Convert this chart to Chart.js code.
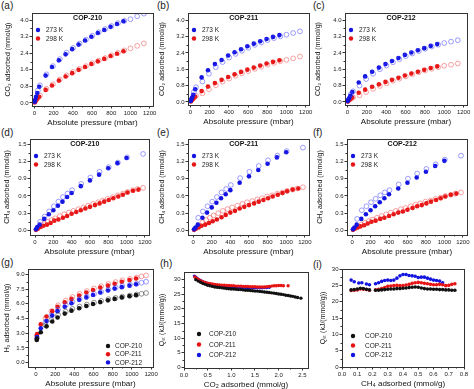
<!DOCTYPE html>
<html>
<head>
<meta charset="utf-8">
<script src="https://cdn.jsdelivr.net/npm/chart.js@4.4.1/dist/chart.umd.min.js"></script>
<style>
  body { margin: 0; background: #fff; width: 474px; height: 389px; position: relative; overflow: hidden; font-family: "Liberation Sans", Arial, sans-serif; }
  canvas { position: absolute; }
  .tag { position: absolute; font-size: 10px; color: #222; line-height: 10px; }
</style>
</head>
<body>
<div class="tag" style="left:1px;top:1px">(a)</div>
<div class="tag" style="left:157px;top:1px">(b)</div>
<div class="tag" style="left:313px;top:1px">(c)</div>
<div class="tag" style="left:1px;top:128px">(d)</div>
<div class="tag" style="left:157px;top:128px">(e)</div>
<div class="tag" style="left:313px;top:128px">(f)</div>
<div class="tag" style="left:1px;top:258px">(g)</div>
<div class="tag" style="left:160px;top:259px">(h)</div>
<div class="tag" style="left:313px;top:260px">(i)</div>
<script>
// ---- CO2 isotherms (mbar, mmol/g) ----
const co2AdsP = [3, 8, 17, 30, 50, 117, 183, 255, 325, 393, 460, 527, 593, 660, 727, 793, 860, 927];
const co2DesP = [1140, 1070, 1000, 937, 870, 803, 737, 670, 603, 537, 470, 403, 335, 265, 193, 125, 58, 36];

const co2_210_273_ads = [0.06, 0.15, 0.3, 0.48, 0.78, 1.32, 1.74, 2.06, 2.35, 2.6, 2.82, 3.02, 3.2, 3.38, 3.53, 3.68, 3.82, 3.95];
const co2_210_273_des = [4.32, 4.19, 4.05, 3.97, 3.86, 3.72, 3.57, 3.42, 3.25, 3.06, 2.87, 2.66, 2.43, 2.12, 1.78, 1.38, 0.85, 0.6];
const co2_210_298_ads = [0.02, 0.06, 0.12, 0.2, 0.3, 0.63, 0.84, 1.08, 1.28, 1.44, 1.6, 1.74, 1.88, 2.01, 2.13, 2.27, 2.38, 2.5];
const co2_210_298_des = [2.88, 2.76, 2.64, 2.54, 2.42, 2.3, 2.17, 2.05, 1.92, 1.78, 1.65, 1.5, 1.33, 1.13, 0.9, 0.68, 0.36, 0.25];

const co2_211_273_ads = [0.05, 0.12, 0.22, 0.35, 0.62, 1.2, 1.55, 1.85, 2.05, 2.27, 2.43, 2.58, 2.72, 2.85, 2.97, 3.08, 3.18, 3.27];
const co2_211_273_des = [3.45, 3.37, 3.29, 3.21, 3.12, 3.02, 2.91, 2.79, 2.65, 2.5, 2.35, 2.17, 1.95, 1.7, 1.38, 1.0, 0.72, 0.48];
const co2_211_298_ads = [0.02, 0.05, 0.1, 0.16, 0.25, 0.53, 0.75, 0.92, 1.08, 1.22, 1.35, 1.47, 1.58, 1.68, 1.78, 1.88, 1.96, 2.04];
const co2_211_298_des = [2.22, 2.13, 2.06, 1.99, 1.91, 1.82, 1.72, 1.62, 1.51, 1.4, 1.28, 1.14, 0.99, 0.82, 0.62, 0.42, 0.3, 0.2];

const co2_212_273_ads = [0.04, 0.1, 0.18, 0.3, 0.48, 0.95, 1.25, 1.48, 1.68, 1.85, 2.0, 2.15, 2.3, 2.42, 2.53, 2.63, 2.74, 2.83];
const co2_212_273_des = [3.02, 2.95, 2.88, 2.8, 2.71, 2.6, 2.49, 2.37, 2.24, 2.09, 1.94, 1.78, 1.6, 1.38, 1.12, 0.8, 0.52, 0.38];
const co2_212_298_ads = [0.02, 0.04, 0.08, 0.13, 0.22, 0.45, 0.6, 0.74, 0.86, 0.98, 1.08, 1.18, 1.29, 1.39, 1.48, 1.57, 1.66, 1.74];
const co2_212_298_des = [1.88, 1.82, 1.77, 1.7, 1.62, 1.54, 1.45, 1.35, 1.25, 1.14, 1.03, 0.91, 0.78, 0.64, 0.48, 0.32, 0.22, 0.15];

// ---- CH4 isotherms ----
const ch4AdsP273 = [10, 25, 50, 100, 150, 200, 250, 300, 350, 400, 500, 600, 700, 800, 900, 1000];
const ch4DesP273 = [1180, 1005, 905, 805, 705, 605, 505, 405, 355, 305, 255, 205, 155, 105, 55];
const ch4AdsP298 = [10, 30, 60, 90, 130, 170, 210, 255, 305, 350, 400, 450, 500, 550, 600, 655, 705, 755, 805, 855, 910, 960, 1010, 1070, 1130];
const ch4DesP298 = [1180, 1120, 1070, 1010, 960, 905, 850, 795, 740, 690, 635, 580, 530, 475, 420, 370, 320, 270, 220, 180, 140, 100, 60];

const ch4_210_273_ads = [0.02, 0.06, 0.1, 0.2, 0.28, 0.35, 0.43, 0.5, 0.58, 0.65, 0.77, 0.87, 0.97, 1.08, 1.17, 1.26];
const ch4_210_273_des = [1.33, 1.27, 1.18, 1.1, 1.02, 0.92, 0.81, 0.7, 0.64, 0.58, 0.5, 0.42, 0.33, 0.24, 0.15];
const ch4_210_298_ads = [0.01, 0.03, 0.06, 0.08, 0.1, 0.13, 0.17, 0.19, 0.22, 0.25, 0.29, 0.32, 0.35, 0.38, 0.41, 0.44, 0.47, 0.5, 0.53, 0.56, 0.59, 0.62, 0.66, 0.69, 0.71];
const ch4_210_298_des = [0.74, 0.72, 0.7, 0.67, 0.64, 0.61, 0.58, 0.55, 0.52, 0.49, 0.46, 0.43, 0.4, 0.37, 0.34, 0.31, 0.28, 0.25, 0.21, 0.18, 0.15, 0.11, 0.07];

const ch4_211_273_ads = [0.02, 0.05, 0.1, 0.22, 0.31, 0.4, 0.48, 0.56, 0.63, 0.7, 0.83, 0.94, 1.05, 1.16, 1.27, 1.36];
const ch4_211_273_des = [1.44, 1.38, 1.3, 1.22, 1.12, 1.02, 0.91, 0.79, 0.72, 0.66, 0.58, 0.5, 0.42, 0.33, 0.22];
const ch4_211_298_ads = [0.01, 0.03, 0.05, 0.08, 0.1, 0.13, 0.16, 0.19, 0.23, 0.27, 0.31, 0.34, 0.38, 0.41, 0.44, 0.47, 0.5, 0.53, 0.56, 0.59, 0.62, 0.65, 0.68, 0.71, 0.73];
const ch4_211_298_des = [0.75, 0.73, 0.71, 0.69, 0.66, 0.64, 0.61, 0.59, 0.56, 0.54, 0.51, 0.49, 0.46, 0.43, 0.4, 0.37, 0.34, 0.3, 0.26, 0.22, 0.18, 0.14, 0.09];

const ch4_212_273_ads = [0.02, 0.05, 0.1, 0.2, 0.28, 0.35, 0.42, 0.49, 0.56, 0.63, 0.73, 0.83, 0.92, 1.02, 1.12, 1.21];
const ch4_212_273_des = [1.3, 1.23, 1.15, 1.07, 0.99, 0.9, 0.8, 0.7, 0.66, 0.61, 0.55, 0.49, 0.42, 0.35, 0.2];
const ch4_212_298_ads = [0.01, 0.03, 0.05, 0.07, 0.09, 0.12, 0.15, 0.17, 0.2, 0.22, 0.25, 0.28, 0.31, 0.33, 0.36, 0.39, 0.42, 0.44, 0.47, 0.5, 0.53, 0.56, 0.59, 0.62, 0.64];
const ch4_212_298_des = [0.66, 0.64, 0.62, 0.6, 0.57, 0.55, 0.52, 0.5, 0.47, 0.45, 0.42, 0.39, 0.37, 0.34, 0.31, 0.28, 0.25, 0.22, 0.19, 0.16, 0.13, 0.1, 0.06];

// ---- H2 isotherms (77 K) ----
const h2AdsP = [8, 12, 50, 110, 170, 225, 300, 370, 450, 525, 595, 670, 750, 820, 895, 975, 1043];
const h2DesP = [1148, 1100, 1050, 980, 900, 830, 755, 680, 605, 530, 455, 380, 310, 230, 160, 100];
const h2_210_ads = [2.3, 2.45, 3.1, 3.7, 4.2, 4.6, 5.0, 5.3, 5.55, 5.78, 5.98, 6.17, 6.35, 6.5, 6.65, 6.78, 6.88];
const h2_210_des = [7.1, 7.02, 6.95, 6.85, 6.73, 6.6, 6.47, 6.3, 6.12, 5.92, 5.72, 5.48, 5.2, 4.85, 4.35, 3.8];
const h2_211_ads = [2.75, 2.9, 3.9, 4.7, 5.25, 5.7, 6.15, 6.5, 6.85, 7.15, 7.4, 7.65, 7.85, 8.05, 8.25, 8.42, 8.58];
const h2_211_des = [8.9, 8.8, 8.68, 8.55, 8.4, 8.22, 8.02, 7.8, 7.57, 7.3, 7.02, 6.7, 6.32, 5.85, 5.25, 4.55];
const h2_212_ads = [2.45, 2.6, 3.5, 4.25, 4.8, 5.25, 5.7, 6.05, 6.4, 6.65, 6.9, 7.15, 7.35, 7.55, 7.7, 7.85, 8.0];
const h2_212_des = [8.25, 8.15, 8.05, 7.95, 7.82, 7.65, 7.45, 7.22, 7.0, 6.75, 6.5, 6.2, 5.85, 5.4, 4.8, 4.15];

// ---- Qst vs CO2 loading ----
const qco2_210_x = [0.25, 0.3, 0.35, 0.4, 0.45, 0.5, 0.55, 0.6, 0.65, 0.7, 0.75, 0.8, 0.85, 0.9, 0.95, 1.0, 1.05, 1.1, 1.15, 1.2, 1.25, 1.3, 1.35, 1.4, 1.45, 1.5, 1.55, 1.6, 1.65, 1.7, 1.75, 1.8, 1.85, 1.9, 1.95, 2.0, 2.05, 2.1, 2.15, 2.2, 2.25, 2.3, 2.35, 2.4, 2.47];
const qco2_210_y = [29.9, 29.4, 29.0, 28.6, 28.3, 28.0, 27.8, 27.6, 27.4, 27.3, 27.2, 27.1, 27.0, 26.9, 26.8, 26.7, 26.7, 26.6, 26.5, 26.5, 26.4, 26.3, 26.3, 26.2, 26.1, 26.0, 26.0, 25.9, 25.8, 25.7, 25.6, 25.5, 25.4, 25.3, 25.2, 25.0, 24.9, 24.8, 24.6, 24.5, 24.3, 24.2, 24.0, 23.8, 23.6];
const qco2_211_x = [0.23, 0.27, 0.31, 0.35, 0.4, 0.45, 0.5, 0.55, 0.6, 0.65, 0.7, 0.75, 0.8, 0.85, 0.9, 0.95, 1.0, 1.05, 1.1, 1.15, 1.2, 1.25, 1.3, 1.35, 1.4, 1.45, 1.5, 1.55, 1.6, 1.65, 1.7, 1.75, 1.8, 1.85, 1.9, 1.95, 2.0, 2.05, 2.1, 2.2];
const qco2_211_y = [30.8, 30.3, 29.9, 29.5, 29.2, 28.9, 28.7, 28.5, 28.4, 28.3, 28.2, 28.1, 28.0, 28.0, 27.9, 27.9, 27.8, 27.8, 27.7, 27.7, 27.7, 27.6, 27.6, 27.6, 27.5, 27.5, 27.5, 27.4, 27.4, 27.4, 27.4, 27.5, 27.6, 27.7, 27.8, 27.8, 27.9, 27.9, 27.8, 27.8];
const qco2_212_x = [0.22, 0.25, 0.28, 0.32, 0.36, 0.4, 0.45, 0.5, 0.55, 0.6, 0.65, 0.7, 0.75, 0.8, 0.85, 0.9, 0.95, 1.0, 1.05, 1.1, 1.15, 1.2, 1.25, 1.3, 1.35, 1.4, 1.45, 1.5, 1.55, 1.6, 1.65, 1.7, 1.75, 1.8];
const qco2_212_y = [31.1, 30.7, 30.3, 29.9, 29.5, 29.2, 28.9, 28.6, 28.4, 28.2, 28.0, 27.9, 27.8, 27.7, 27.6, 27.5, 27.5, 27.4, 27.4, 27.3, 27.3, 27.2, 27.2, 27.2, 27.1, 27.1, 27.1, 27.1, 27.1, 27.1, 27.1, 27.2, 27.2, 27.3];

// ---- Qst vs CH4 loading ----
const qch4_210_x = [0.06, 0.08, 0.1, 0.12, 0.14, 0.16, 0.18, 0.22, 0.24, 0.26, 0.28, 0.3, 0.32, 0.34, 0.36, 0.38, 0.4, 0.42, 0.44, 0.46, 0.48, 0.5, 0.52, 0.54, 0.56, 0.58, 0.6, 0.62, 0.64, 0.66, 0.68, 0.7, 0.72, 0.74];
const qch4_210_y = [23.6, 23.7, 23.9, 24.1, 24.0, 23.8, 23.6, 23.5, 23.5, 23.6, 23.7, 23.8, 23.9, 23.9, 24.0, 24.0, 24.1, 24.2, 24.3, 24.4, 24.5, 24.4, 24.2, 24.0, 23.9, 23.9, 23.8, 23.8, 23.7, 23.7, 23.6, 23.6, 23.5, 23.5];
const qch4_211_x = [0.06, 0.08, 0.1, 0.12, 0.14, 0.16, 0.18, 0.22, 0.24, 0.26, 0.28, 0.3, 0.32, 0.34, 0.36, 0.38, 0.4, 0.42, 0.44, 0.46, 0.48, 0.5, 0.52, 0.54, 0.56, 0.58, 0.6, 0.62, 0.64, 0.66, 0.68, 0.7, 0.72, 0.74];
const qch4_211_y = [23.4, 23.5, 23.6, 23.9, 23.8, 23.7, 23.5, 23.6, 23.8, 24.0, 24.3, 24.7, 24.8, 24.9, 25.0, 24.9, 24.9, 25.1, 25.3, 25.6, 25.8, 25.9, 25.8, 25.6, 25.5, 25.3, 25.2, 25.2, 25.3, 25.2, 24.9, 25.0, 25.3, 25.5];
const qch4_212_x = [0.06, 0.08, 0.11, 0.13, 0.16, 0.18, 0.22, 0.24, 0.26, 0.28, 0.3, 0.32, 0.34, 0.36, 0.38, 0.4, 0.42, 0.44, 0.46, 0.48, 0.5, 0.52, 0.54, 0.56, 0.58, 0.6, 0.62, 0.64, 0.66];
const qch4_212_y = [26.6, 26.1, 25.7, 25.8, 25.4, 25.2, 25.5, 25.8, 26.2, 26.5, 26.6, 26.5, 26.6, 27.2, 27.9, 28.3, 28.3, 28.0, 27.9, 27.8, 27.4, 27.5, 27.5, 27.2, 26.9, 26.6, 26.5, 26.3, 25.8];

// ---- tick labels ----
const pressTicks = [0, 200, 400, 600, 800, 1000, 1200];
const co2Ticks = [0.0, 0.8, 1.6, 2.4, 3.2, 4.0];
const ch4Ticks = [0.0, 0.3, 0.6, 0.9, 1.2, 1.5];
const h2Ticks = [0.0, 1.5, 3.0, 4.5, 6.0, 7.5, 9.0];
const qTicks = [0, 5, 10, 15, 20, 25, 30];
const co2LoadTicks = [0.0, 0.5, 1.0, 1.5, 2.0, 2.5];
const ch4LoadTicks = [0.0, 0.1, 0.2, 0.3, 0.4, 0.5, 0.6, 0.7, 0.8];

const BLUE = 'rgb(20,20,225)', RED = 'rgb(230,20,20)', BLACK = '#111';
const BLUE_O = 'rgba(60,60,255,0.55)', RED_O = 'rgba(240,50,50,0.5)', BLACK_O = 'rgba(40,40,40,0.55)';
const FONT = '"Liberation Sans", Arial, sans-serif';

function pts(xs, ys) { return xs.map((x, i) => ({ x: x, y: ys[i] })); }
function filled(xs, ys, c, r) {
    return { data: pts(xs, ys), pointRadius: r || 2.3, pointBackgroundColor: c, pointBorderWidth: 0, pointBorderColor: c };
}
function open(xs, ys, c) {
    return { data: pts(xs, ys), pointRadius: 2.4, pointBackgroundColor: 'rgba(0,0,0,0)', pointBorderWidth: 0.9, pointBorderColor: c };
}

// frame, minor ticks, inner title and legend
const decor = {
    id: 'decor',
    afterDraw(chart, args, o) {
        const ctx = chart.ctx, a = chart.chartArea;
        const sx = chart.scales.x, sy = chart.scales.y;
        ctx.save();
        ctx.strokeStyle = '#333';
        ctx.lineWidth = 1;
        ctx.strokeRect(Math.round(a.left) + 0.5, Math.round(a.top) + 0.5, Math.round(a.right - a.left), Math.round(a.bottom - a.top));
        // minor ticks halfway between the major ones
        ctx.beginPath();
        const xt = sx.ticks.map(t => t.value), yt = sy.ticks.map(t => t.value);
        for (let i = 0; i < xt.length - 1; i++) {
            const px = Math.round(sx.getPixelForValue((xt[i] + xt[i + 1]) / 2)) + 0.5;
            ctx.moveTo(px, a.bottom); ctx.lineTo(px, a.bottom + 1.5);
        }
        for (let i = 0; i < yt.length - 1; i++) {
            const py = Math.round(sy.getPixelForValue((yt[i] + yt[i + 1]) / 2)) + 0.5;
            ctx.moveTo(a.left, py); ctx.lineTo(a.left - 1.5, py);
        }
        ctx.stroke();
        if (o.title) {
            ctx.fillStyle = '#111';
            ctx.font = 'bold 7px ' + FONT;
            ctx.textAlign = 'center';
            ctx.textBaseline = 'middle';
            ctx.fillText(o.title, a.left + (a.right - a.left) * 0.46, a.top + 5);
        }
        if (o.legend) {
            const L = o.legend;
            ctx.font = '6.5px ' + FONT;
            ctx.textAlign = 'left';
            ctx.textBaseline = 'middle';
            L.items.forEach((it, i) => {
                const x = a.left + L.x, y = a.top + L.y + i * L.gap;
                ctx.fillStyle = it[1];
                ctx.beginPath();
                ctx.arc(x, y, 2.2, 0, Math.PI * 2);
                ctx.fill();
                ctx.fillStyle = '#222';
                ctx.fillText(it[0], x + L.tx, y + 0.5);
            });
        }
        ctx.restore();
    }
};

function makePanel(p) {
    const yW = p.yW, padT = 6, padR = 10, xH = 23;
    const w = (p.rect[2] - p.rect[0]) + yW + padR;
    const h = (p.rect[3] - p.rect[1]) + padT + xH;
    const cv = document.createElement('canvas');
    cv.width = w; cv.height = h;
    cv.style.left = (p.rect[0] - yW) + 'px';
    cv.style.top = (p.rect[1] - padT) + 'px';
    cv.style.width = w + 'px'; cv.style.height = h + 'px';
    document.body.appendChild(cv);

    const axis = (min, max, ticks, fmt, title, tsize, tpad) => ({
        type: 'linear', min: min, max: max,
        border: { display: true, color: '#333', width: 1 },
        grid: { drawOnChartArea: false, drawTicks: true, tickLength: 2.5, color: '#333' },
        ticks: { font: { family: FONT, size: 6 }, color: '#222', padding: 1, maxRotation: 0, autoSkip: false, callback: fmt },
        afterBuildTicks: s => { s.ticks = ticks.map(v => ({ value: v })); },
        title: { display: true, text: title, color: '#111', font: { family: FONT, size: tsize }, padding: tpad }
    });
    const xs = axis(p.x[0], p.x[1], p.xTicks, p.xFmt, p.xTitle, 8, { top: 0, bottom: 1 });
    xs.position = 'bottom';
    xs.afterFit = s => { s.height = xH; };
    const ys = axis(p.y[0], p.y[1], p.yTicks, p.yFmt, p.yTitle, 7, { top: 4, bottom: 0 });
    ys.position = 'left';
    ys.afterFit = s => { s.width = yW; };

    new Chart(cv, {
        type: 'scatter',
        data: { datasets: p.datasets },
        options: {
            responsive: false, animation: false, devicePixelRatio: 1, events: [],
            layout: { padding: { left: 0, top: padT, right: padR, bottom: 0 } },
            scales: { x: xs, y: ys },
            plugins: { legend: { display: false }, tooltip: { enabled: false }, decor: { title: p.title, legend: p.legend } }
        },
        plugins: [decor]
    });
}

const f1 = v => v.toFixed(1), f0 = v => String(v);
const kLegend = { x: 6, y: 17, gap: 8.5, tx: 8, items: [['273 K', BLUE], ['298 K', RED]] };
const pressTitle = 'Absolute pressure (mbar)';

function co2Panel(rect, yW, title, a273, d273, a298, d298) {
    return {
        rect: rect, yW: yW, title: title, legend: kLegend,
        x: [-25, 1235], xTicks: pressTicks, xFmt: f0, xTitle: pressTitle,
        y: [-0.15, 4.35], yTicks: co2Ticks, yFmt: f1, yTitle: 'CO\u2082 adsorbed (mmol/g)',
        datasets: [open(co2DesP, d273, BLUE_O), filled(co2AdsP, a273, BLUE), open(co2DesP, d298, RED_O), filled(co2AdsP, a298, RED)]
    };
}
function ch4Panel(rect, yW, title, a273, d273, a298, d298) {
    return {
        rect: rect, yW: yW, title: title, legend: kLegend,
        x: [-55, 1245], xTicks: pressTicks, xFmt: f0, xTitle: pressTitle,
        y: [-0.08, 1.59], yTicks: ch4Ticks, yFmt: f1, yTitle: 'CH\u2084 adsorbed (mmol/g)',
        datasets: [open(ch4DesP273, d273, BLUE_O), filled(ch4AdsP273, a273, BLUE), open(ch4DesP298, d298, RED_O), filled(ch4AdsP298, a298, RED)]
    };
}

makePanel(co2Panel([32, 13, 153, 106], 32, 'COP-210', co2_210_273_ads, co2_210_273_des, co2_210_298_ads, co2_210_298_des));
makePanel(co2Panel([188, 13, 309, 105], 34, 'COP-211', co2_211_273_ads, co2_211_273_des, co2_211_298_ads, co2_211_298_des));
makePanel(co2Panel([345, 13, 467, 105], 35, 'COP-212', co2_212_273_ads, co2_212_273_des, co2_212_298_ads, co2_212_298_des));
makePanel(ch4Panel([30, 139, 149, 235], 31, 'COP-210', ch4_210_273_ads, ch4_210_273_des, ch4_210_298_ads, ch4_210_298_des));
makePanel(ch4Panel([188, 139, 309, 235], 34, 'COP-211', ch4_211_273_ads, ch4_211_273_des, ch4_211_298_ads, ch4_211_298_des));
makePanel(ch4Panel([347, 139, 467, 235], 35, 'COP-212', ch4_212_273_ads, ch4_212_273_des, ch4_212_298_ads, ch4_212_298_des));

const copLegend = [['COP-210', BLACK], ['COP-211', RED], ['COP-212', BLUE]];

makePanel({
    rect: [28, 269, 153, 367], yW: 29,
    legend: { x: 80, y: 77, gap: 8.2, tx: 7, items: copLegend },
    x: [-83, 1220], xTicks: pressTicks, xFmt: f0, xTitle: pressTitle,
    y: [-0.45, 9.55], yTicks: h2Ticks, yFmt: f1, yTitle: 'H\u2082 adsorbed (mmol/g)',
    datasets: [
        open(h2DesP, h2_210_des, BLACK_O), filled(h2AdsP, h2_210_ads, BLACK),
        open(h2DesP, h2_212_des, BLUE_O), filled(h2AdsP, h2_212_ads, BLUE),
        open(h2DesP, h2_211_des, RED_O), filled(h2AdsP, h2_211_ads, RED)
    ]
});

makePanel({
    rect: [184, 272, 308, 368], yW: 30,
    legend: { x: 15, y: 62, gap: 10.5, tx: 10, items: copLegend },
    x: [0, 2.62], xTicks: co2LoadTicks, xFmt: f1, xTitle: 'CO\u2082 adsorbed (mmol/g)',
    y: [-0.2, 32.5], yTicks: qTicks, yFmt: f0, yTitle: 'Q\u209b\u209c (kJ/(mmol/g))',
    datasets: [
        filled(qco2_210_x, qco2_210_y, BLACK, 1.7),
        filled(qco2_211_x, qco2_211_y, RED, 1.7),
        filled(qco2_212_x, qco2_212_y, BLUE, 1.7)
    ]
});

makePanel({
    rect: [342, 269, 464, 367], yW: 27,
    legend: { x: 11, y: 67, gap: 9.5, tx: 12, items: copLegend },
    x: [0, 0.8], xTicks: ch4LoadTicks, xFmt: f1, xTitle: 'CH\u2084 adsorbed (mmol/g)',
    y: [0, 30], yTicks: qTicks, yFmt: f0, yTitle: 'Q\u209b\u209c (kJ/(mmol/g))',
    datasets: [
        filled(qch4_210_x, qch4_210_y, BLACK, 1.8),
        filled(qch4_211_x, qch4_211_y, RED, 1.8),
        filled(qch4_212_x, qch4_212_y, BLUE, 1.8)
    ]
});
</script>
</body>
</html>
